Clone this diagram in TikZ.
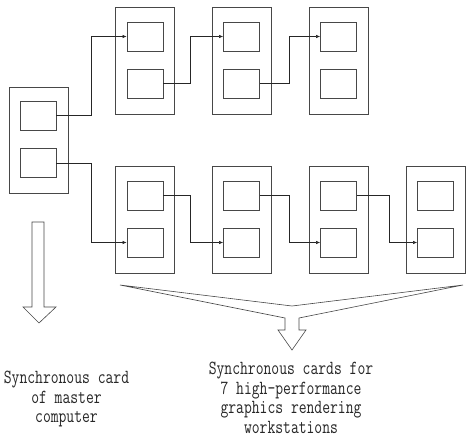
\documentclass[tikz,border=0pt]{standalone}
\usepackage{fontspec}
\newfontfamily\simfont{Latin Modern Mono}[FakeStretch=0.76]
\usetikzlibrary{arrows.meta}
\begin{document}
\begin{tikzpicture}[x=1pt,y=-1pt,
  line/.style={draw=black!72,line width=0.75pt},
  outerbox/.style={line,minimum width=59pt,minimum height=107pt,inner sep=0pt,anchor=center},
  innerbox/.style={line,minimum width=36pt,minimum height=29pt,inner sep=0pt,anchor=center},
  conn/.style={draw=black!85,line width=0.6pt,-{Latex[length=4pt,width=3.5pt]}},
  blockarrow/.style={draw=black!72,line width=0.6pt,line join=miter},
  lbl/.style={inner sep=0pt,align=center,font=\simfont\fontsize{20}{19.5}\selectfont,text=black!85}]
\useasboundingbox (0,0) rectangle (474,437);
% master
\node[outerbox,minimum height=106pt] (mo) at (38.5,140) {};
\node[innerbox] (mt) at (38,115.5) {};
\node[innerbox] (mb) at (38,163) {};
% top row
\foreach \i/\x in {1/145,2/241.5,3/338.5}{
  \node[outerbox] (to\i) at (\x,60.5) {};
  \node[innerbox] (tt\i) at (\x,36.5) {};
  \node[innerbox] (tb\i) at (\x,83.5) {};
}
% bottom row
\foreach \i/\x in {1/145,2/241.5,3/338.5,4/435.5}{
  \node[outerbox] (bo\i) at (\x,219.5) {};
  \node[innerbox] (bt\i) at (\x,195.5) {};
  \node[innerbox] (bb\i) at (\x,242.5) {};
}
% top connectors
\draw[conn] (mt.east) -- ++(35,0) |- (tt1.west);
\draw[conn] (tb1.east) -- ++(27,0) |- (tt2.west);
\draw[conn] (tb2.east) -- ++(29.5,0) |- (tt3.west);
% bottom connectors
\draw[conn] (mb.east) -- ++(35,0) |- (bb1.west);
\draw[conn] (bt1.east) -- ++(27,0) |- (bb2.west);
\draw[conn] (bt2.east) -- ++(29.5,0) |- (bb3.west);
\draw[conn] (bt3.east) -- ++(32,0) |- (bb4.west);
% master block arrow
\draw[blockarrow] (32,222) -- (44,222) -- (44,307) -- (56,307) -- (39,323) -- (23,307) -- (32,307) -- cycle;
% merge block arrow
\draw[blockarrow] (120,285) -- (292,306) -- (463,285) -- (299,318) -- (299,330) -- (306,330) -- (292,350) -- (278,330) -- (285,330) -- (285,318) -- cycle;
% labels
\node[lbl] (l1) at (66.5,399) {Synchronous card\\of master\\computer};
\node[lbl] (l2) at (291,398) {Synchronous cards for\\7 high-performance\\graphics rendering\\workstations};
\end{tikzpicture}
\end{document}
